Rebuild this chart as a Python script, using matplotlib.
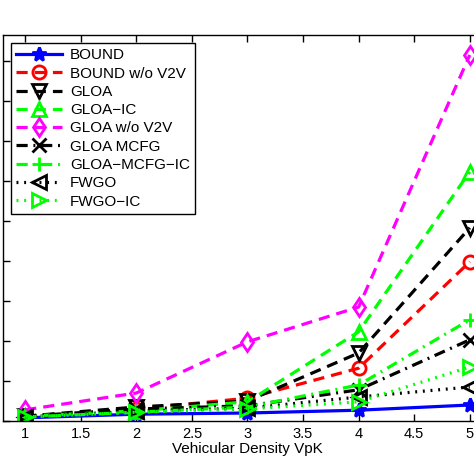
import matplotlib
matplotlib.use("Agg")
import matplotlib.pyplot as plt

plt.rcParams['font.family'] = ['Liberation Sans', 'DejaVu Sans']

density = [1, 2, 3, 4, 5]
bound = [0.08, 0.17, 0.20, 0.27, 0.40]
bound_wo_v2v = [0.12, 0.30, 0.57, 1.32, 3.98]
gloa = [0.12, 0.35, 0.50, 1.70, 4.83]
gloa_ic = [0.12, 0.25, 0.48, 2.23, 6.23]
gloa_wo_v2v = [0.28, 0.70, 1.98, 2.85, 9.15]
gloa_mcfg = [0.12, 0.30, 0.38, 0.78, 2.03]
gloa_mcfg_ic = [0.10, 0.22, 0.35, 0.90, 2.53]
fwgo = [0.10, 0.25, 0.32, 0.60, 0.85]
fwgo_ic = [0.10, 0.22, 0.30, 0.48, 1.35]

labels = ['BOUND', 'BOUND w/o V2V', 'GLOA', 'GLOA\u2212IC', 'GLOA w/o V2V',
          'GLOA MCFG', 'GLOA\u2212MCFG\u2212IC', 'FWGO', 'FWGO\u2212IC']
series = [bound, bound_wo_v2v, gloa, gloa_ic, gloa_wo_v2v,
          gloa_mcfg, gloa_mcfg_ic, fwgo, fwgo_ic]

G = (0, 1, 0)
styles = [
    dict(color='#0000ff', marker='*', ls='-'),
    dict(color='#ff0000', marker='o', ls='--'),
    dict(color='black', marker='v', ls='--'),
    dict(color=G, marker='^', ls='--'),
    dict(color='#ff00ff', marker='d', ls='--'),
    dict(color='black', marker='x', ls='-.'),
    dict(color=G, marker='+', ls='-.'),
    dict(color='black', marker='<', ls=':'),
    dict(color=G, marker='>', ls=':'),
]

W = H = 474
fig = plt.figure(figsize=(W / 100, H / 100), dpi=100)
ax = fig.add_axes([3 / W, 53 / H, 489 / W, 386 / H])

for y, lab, st in zip(series, labels, styles):
    kw = dict(color=st['color'], marker=st['marker'], lw=2.3,
              markersize=9.5, markeredgewidth=2, markerfacecolor='none',
              label=lab)
    if st['ls'] == '--':
        kw['dashes'] = (3.5, 2.2)
    elif st['ls'] == '-.':
        kw['dashes'] = (3.5, 1.8, 0.6, 1.8)
    elif st['ls'] == ':':
        kw['dashes'] = (0.6, 1.8)
    else:
        kw['ls'] = '-'
    if st['marker'] == '*':
        kw['markerfacecolor'] = st['color']
        kw['markersize'] = 10
    ax.plot(density, y, **kw)

ax.set_xlim(0.8, 5.2)
ax.set_ylim(0, 9.65)
ax.set_xticks([1, 1.5, 2, 2.5, 3, 3.5, 4, 4.5, 5])
ax.set_xticklabels(['1', '1.5', '2', '2.5', '3', '3.5', '4', '4.5', '5'])
ax.set_yticks(range(0, 10))
ax.set_yticklabels([])
ax.tick_params(direction='in', length=5, width=1, top=True, right=True,
               labelsize=10.5, pad=4)
for s in ax.spines.values():
    s.set_linewidth(1)
ax.set_xlabel('Vehicular Density VpK', fontsize=11, labelpad=1)

leg = ax.legend(loc='upper left', bbox_to_anchor=(11 / W, 1 - 43 / H),
                bbox_transform=fig.transFigure, borderaxespad=0,
                fontsize=11, handlelength=3.0, labelspacing=0.28,
                handletextpad=0.5, borderpad=0.35, fancybox=False,
                edgecolor='black', framealpha=1)
leg.get_frame().set_linewidth(1)

fig.savefig('out.png', dpi=100)
